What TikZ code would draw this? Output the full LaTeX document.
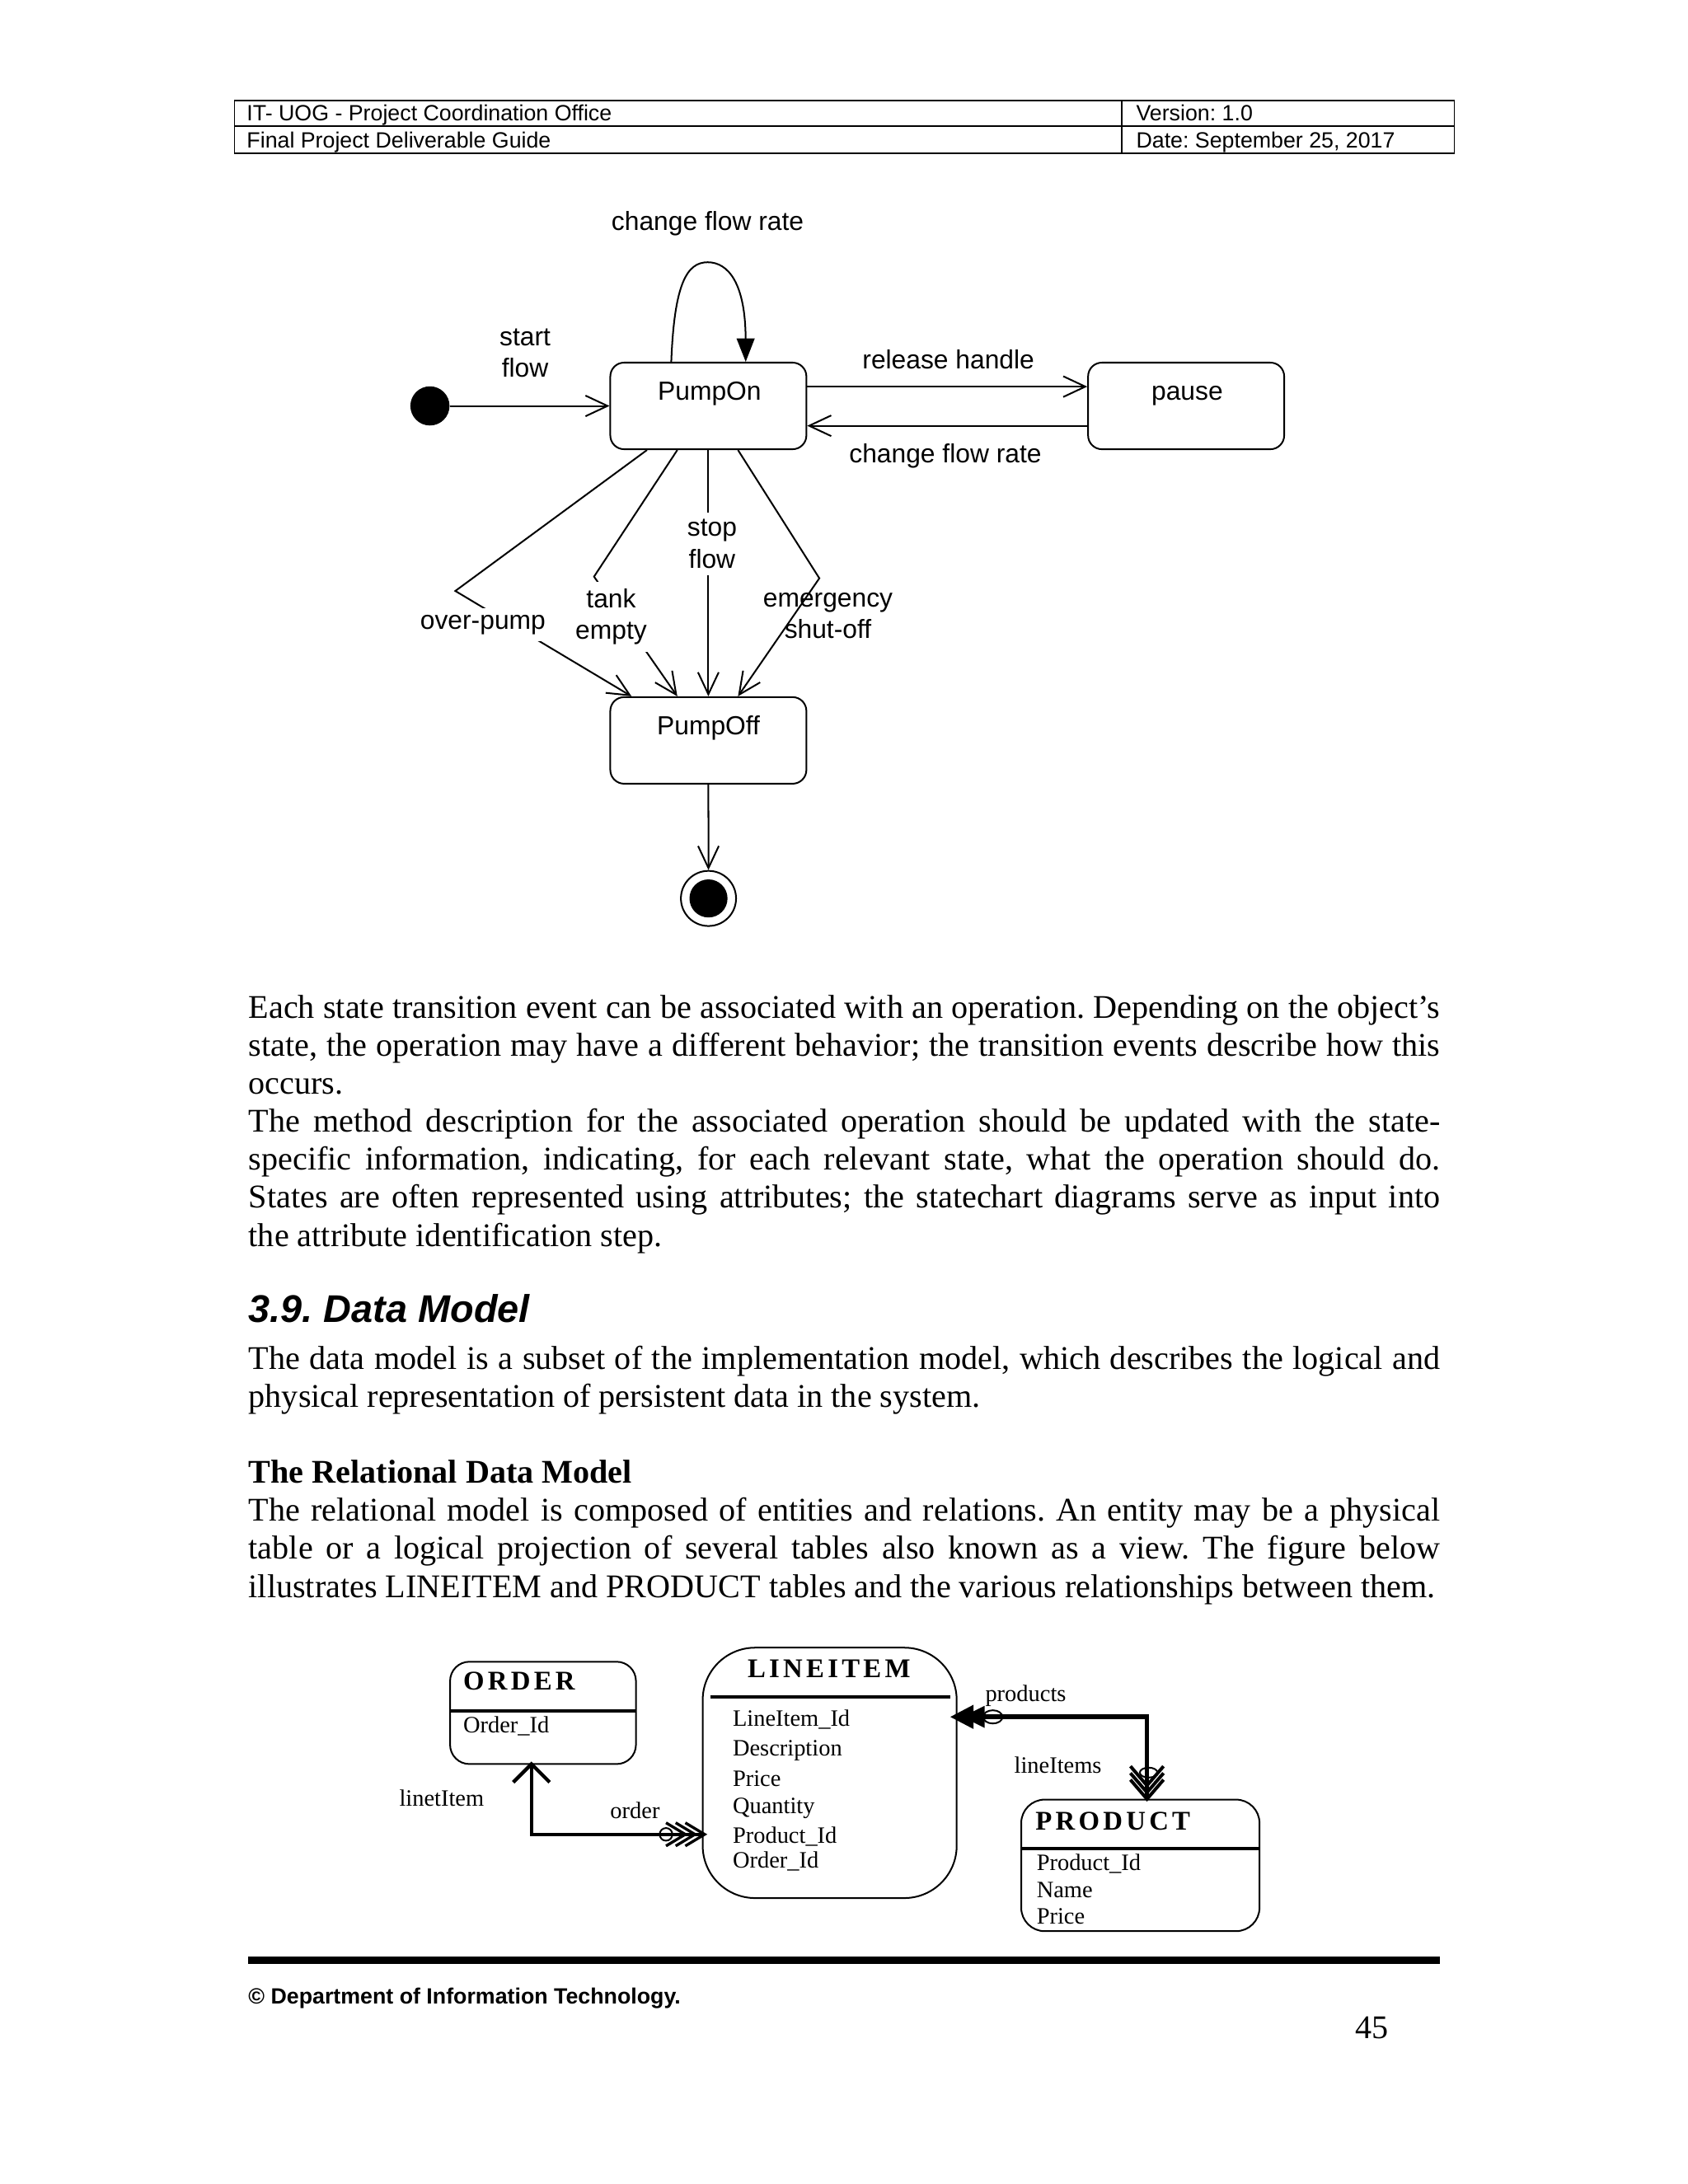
\documentclass[tikz,border=0pt]{standalone}
\usepackage{fontspec}
\setmainfont{Liberation Serif}
\setsansfont{Liberation Sans}
\newfontfamily\arial{Liberation Sans}
\newfontfamily\ertitlefont{Liberation Serif}[LetterSpace=13]
\usetikzlibrary{arrows.meta,calc}
\newcommand\jline[1]{\hbox to 432pt{#1}}
\tikzset{
  sline/.style={line width=0.6pt},
  sarr/.style={sline,-{Straight Barb[length=8pt,width=7.5pt]}},
  statebox/.style={draw,line width=0.6pt,rounded corners=5pt,minimum width=71.1pt,minimum height=31.4pt,inner sep=0},
  slabel/.style={font=\arial\fontsize{9.5}{11.4}\selectfont,align=center,inner sep=2.5pt},
  body/.style={anchor=base west,inner sep=0,font=\fontsize{12}{13.8}\selectfont},
  hdr/.style={anchor=base west,inner sep=0,font=\arial\fontsize{8}{9.6}\selectfont},
  erbox/.style={draw,line width=0.6pt,inner sep=0},
  erline/.style={line width=1.3pt},
  erattr/.style={anchor=base west,inner sep=0,font=\fontsize{8.5}{10}\selectfont},
  ertitle/.style={anchor=base west,inner sep=0,font=\ertitlefont\bfseries\fontsize{9.8}{11}\selectfont},
}
\begin{document}
\frenchspacing
\begin{tikzpicture}[x=1pt,y=-1pt]
\useasboundingbox (0,0) rectangle (612,792);
\fill[white] (0,0) rectangle (612,792);

% ---------- header ----------
\draw[line width=0.5pt] (85,36.4) rectangle (527.3,55.6);
\draw[line width=0.5pt] (85,45.8) -- (527.3,45.8);
\draw[line width=0.5pt] (406.7,36.4) -- (406.7,55.6);
\node[hdr] (h1) at (89.3,43.9) {IT- UOG - Project Coordination Office};
\node[hdr] (h2) at (411.8,43.9) {Version: 1.0};
\node[hdr] (h3) at (89.3,53.5) {Final Project Deliverable Guide};
\node[hdr] (h4) at (411.8,53.5) {Date: September 25, 2017};

% ---------- state diagram ----------
\node[statebox] (on) at (256.85,147.2) {};
\node[statebox] (pause) at (430.1,147.2) {};
\node[statebox] (off) at (256.85,268.5) {};
\node[slabel,anchor=base,inner sep=0] (ontx) at (257.3,145) {PumpOn};
\node[slabel,anchor=base,inner sep=0] (pausetx) at (430.5,145.2) {pause};
\node[slabel,anchor=base,inner sep=0] (offtx) at (256.9,266.4) {PumpOff};

\node[circle,fill,inner sep=0,minimum size=14.2pt] (init) at (155.9,147.2) {};
\node[circle,draw,line width=0.6pt,inner sep=0,minimum size=20pt] (fin) at (256.9,325.8) {};
\node[circle,fill,inner sep=0,minimum size=13.8pt] (fincore) at (fin.center) {};

\draw[sarr] (init) -- (on);
\draw[sarr] ([yshift=7pt]on.east) -- ([yshift=7pt]pause.west);
\draw[sarr] ([yshift=-7.2pt]pause.west) -- ([yshift=-7.2pt]on.east);
\draw[sarr] (off) -- (fin);
\draw[sline,-{Triangle[length=8.5pt,width=6.5pt]}] ([xshift=-13.45pt]on.north)
  .. controls (244.5,103) and (249,95.1) .. (256.6,95.1)
  .. controls (264.2,95.1) and (270.3,103) .. ([xshift=13.55pt]on.north);

\coordinate (cop) at (165.1,214.3);
\coordinate (ct) at (215.4,209.1);
\coordinate (ce) at (297.1,209.7);
\draw[sarr] ([xshift=-22.25pt]on.south) -- (cop) -- ([xshift=-27.85pt]off.north);
\draw[sarr] ([xshift=-11.25pt]on.south) -- (ct) -- ([xshift=-11.25pt]off.north);
\draw[sarr] (on.south) -- (off.north);
\draw[sarr] ([xshift=10.75pt]on.south) -- (ce) -- ([xshift=10.75pt]off.north);

\node[slabel] (lcft) at (256.6,81.2) {change flow rate};
\node[slabel] (lsf) at (190.4,127.9) {start\\flow};
\node[slabel] (lrh) at (343.9,130.3) {release handle};
\node[slabel] (lcf) at (342.8,165.4) {change flow rate};
\node[slabel,fill=white] (lop) at (175.1,226.5) {over-pump};
\node[slabel,fill=white] (ltk) at (221.6,223.7) {tank\\empty};
\node[slabel,fill=white] (lst) at (258.2,197.2) {stop\\flow};
\node[slabel] (lem) at (300.2,223.2) {emergency\\shut-off};

% ---------- body text ----------
\node[body] (p1a) at (90,369.1) {\jline{Each state transition event can be associated with an operation. Depending on the object's}};
\node[body] (p1b) at (90,382.9) {\jline{state, the operation may have a different behavior; the transition events describe how this}};
\node[body] (p1c) at (90,396.7) {occurs.};
\node[body] (p2a) at (90,410.5) {\jline{The method description for the associated operation should be updated with the state-}};
\node[body] (p2b) at (90,424.3) {\jline{specific information, indicating, for each relevant state, what the operation should do.}};
\node[body] (p2c) at (90,438.1) {\jline{States are often represented using attributes; the statechart diagrams serve as input into}};
\node[body] (p2d) at (90,451.9) {the attribute identification step.};
\node[anchor=base west,inner sep=0,font=\arial\bfseries\itshape\fontsize{14}{16}\selectfont] (h39) at (90,479.6) {3.9. Data Model};
\node[body] (p3a) at (90,496.6) {\jline{The data model is a subset of the implementation model, which describes the logical and}};
\node[body] (p3b) at (90,510.4) {physical representation of persistent data in the system.};
\node[body,font=\bfseries\fontsize{12}{13.8}\selectfont] (hrel) at (90,537.9) {The Relational Data Model};
\node[body] (p4a) at (90,551.6) {\jline{The relational model is composed of entities and relations. An entity may be a physical}};
\node[body] (p4b) at (90,565.4) {\jline{table or a logical projection of several tables also known as a view. The figure below}};
\node[body] (p4c) at (90,579.2) {illustrates LINEITEM and PRODUCT tables and the various relationships between them.};

% ---------- ER diagram ----------
\node[erbox,rounded corners=7pt,minimum width=67.4pt,minimum height=37.1pt] (order) at (196.9,621.15) {};
\draw[line width=1.1pt] (163.2,620.4) -- (230.6,620.4);
\node[ertitle] (ordert) at (167.8,612.8) {ORDER};
\node[erattr] (ordera) at (167.8,628.5) {Order\_Id};

\node[erbox,rounded corners=19pt,minimum width=92.1pt,minimum height=90.8pt] (li) at (300.85,642.9) {};
\draw[line width=1.1pt] (257.5,615.4) -- (344.6,615.4);
\node[ertitle,anchor=base] (lit) at (300.6,608.4) {LINEITEM};
\node[erattr] (lia1) at (265.5,626.0) {LineItem\_Id};
\node[erattr] (lia2) at (265.5,636.7) {Description};
\node[erattr] (lia3) at (265.5,647.7) {Price};
\node[erattr] (lia4) at (265.5,657.6) {Quantity};
\node[erattr] (lia5) at (265.5,668.4) {Product\_Id};
\node[erattr] (lia6) at (265.5,677.4) {Order\_Id};

\node[erbox,rounded corners=8.5pt,minimum width=86.4pt,minimum height=47.7pt] (prod) at (413.5,676.45) {};
\draw[line width=1.1pt] (370.3,670.4) -- (456.7,670.4);
\node[ertitle] (prodt) at (375.3,663.6) {PRODUCT};
\node[erattr] (pra1) at (375.7,678.3) {Product\_Id};
\node[erattr] (pra2) at (375.7,688.1) {Name};
\node[erattr] (pra3) at (375.7,697.8) {Price};

% order <-> lineitem
\draw[erline] ([xshift=-4.2pt]order.south) |- ([yshift=-22.3pt]li.west);
\draw[erline] (186.1,646.3) -- (192.7,639.7) -- (199.3,646.3);
\foreach \t in {248.5,252,255.5}
  \draw[line width=1pt] (\t-7,661) -- (\t,665.2) -- (\t-7,669.4);
\draw[line width=0.6pt] (241.5,665.2) circle (2.3pt);

% lineitem <-> product
\draw[line width=1.7pt] ([yshift=20.3pt]li.east) -| ([xshift=2.4pt]prod.north);
\fill (344.6,622.6) -- (353,618.2) -- (353,627) -- cycle;
\fill (349,622.6) -- (357,618.6) -- (357,626.6) -- cycle;
\draw[line width=0.6pt] (360,622.6) ellipse [x radius=3.5pt, y radius=2.4pt];
\draw[line width=0.6pt] (416.5,642.8) ellipse [x radius=3.2pt, y radius=1.8pt];
\foreach \t in {647.5,650,652.4}
  \draw[line width=1.2pt] (409.9,\t-7) -- (415.9,\t) -- (421.9,\t-7);

\node[erattr] (lbp) at (357.1,617.1) {products};
\node[erattr] (lbl) at (367.6,643) {lineItems};
\node[erattr] (lbli) at (144.6,655) {linetItem};
\node[erattr] (lbo) at (221.1,659.4) {order};

% ---------- footer ----------
\draw[line width=2.7pt] (90,710.8) -- (522,710.8);
\node[anchor=base west,inner sep=0,font=\arial\bfseries\fontsize{8}{9.6}\selectfont] (foot) at (89.9,726.7) {© Department of Information Technology.};
\node[anchor=base east,inner sep=0,font=\fontsize{12}{13.8}\selectfont] (pg) at (503.7,739.3) {45};
\end{tikzpicture}
\end{document}
